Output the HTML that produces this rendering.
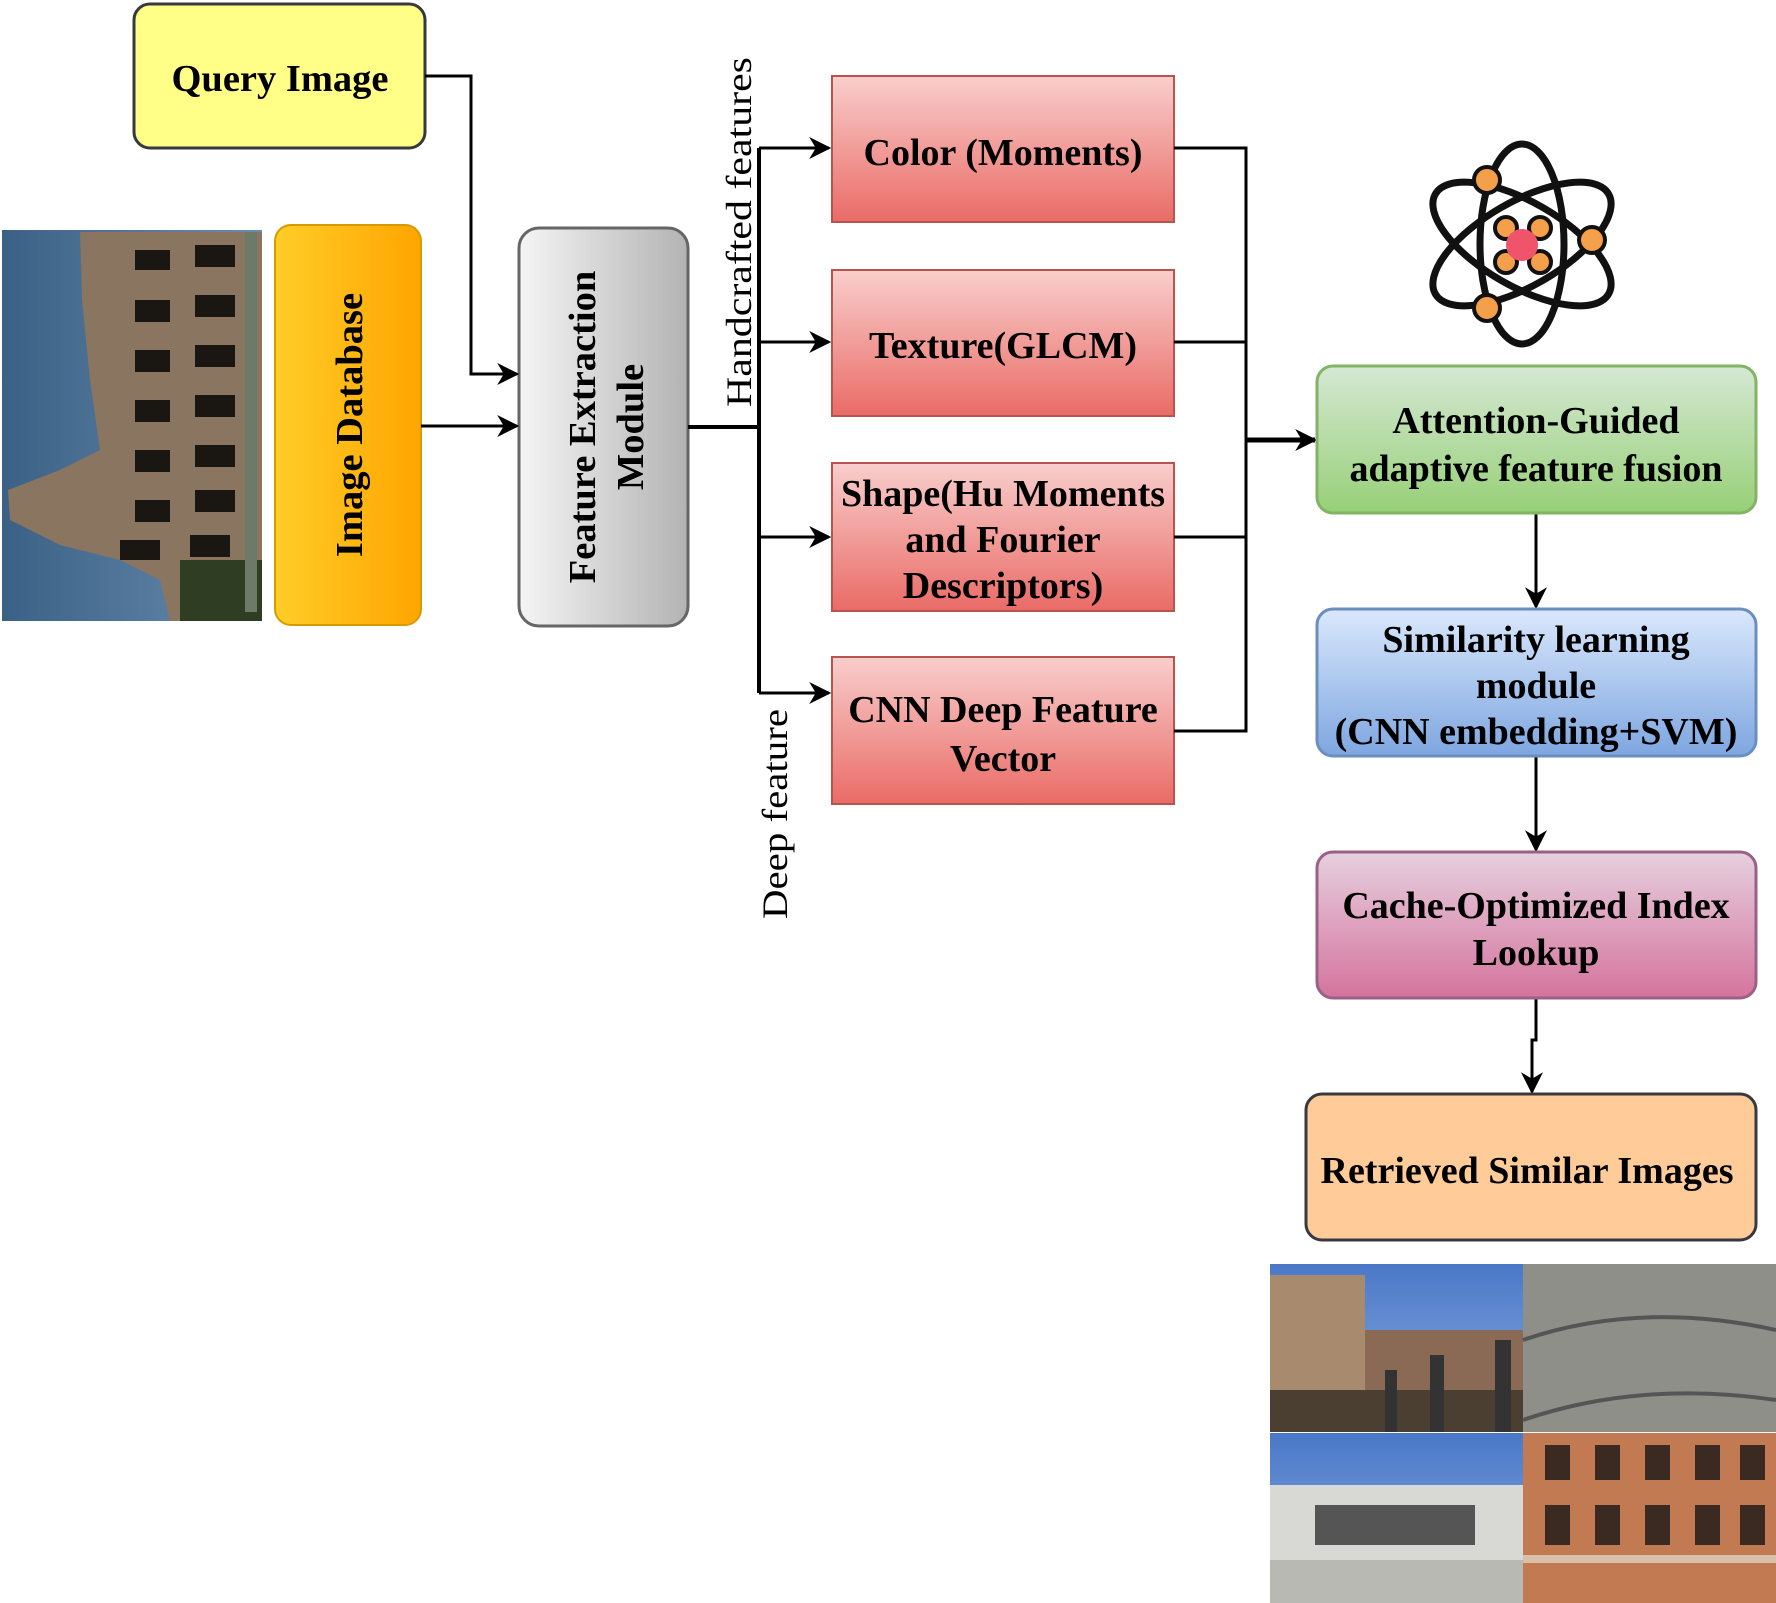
<!DOCTYPE html>
<html><head><meta charset="utf-8"><style>
html,body{margin:0;padding:0;background:#fff;}
svg{display:block;}
text{font-family:"Liberation Serif",serif;font-weight:bold;fill:#000;}
</style></head><body>
<svg width="1776" height="1603" viewBox="0 0 1776 1603" xmlns="http://www.w3.org/2000/svg">
<defs>
<linearGradient id="gOr" x1="0" y1="0" x2="1" y2="0"><stop offset="0" stop-color="#ffcd28"/><stop offset="1" stop-color="#ffa500"/></linearGradient>
<linearGradient id="gGr" x1="0" y1="0" x2="1" y2="0"><stop offset="0" stop-color="#f5f5f5"/><stop offset="1" stop-color="#b3b3b3"/></linearGradient>
<linearGradient id="gRed" x1="0" y1="0" x2="0" y2="1"><stop offset="0" stop-color="#f8cecc"/><stop offset="1" stop-color="#ea6b66"/></linearGradient>
<linearGradient id="gGreen" x1="0" y1="0" x2="0" y2="1"><stop offset="0" stop-color="#d5e8d4"/><stop offset="1" stop-color="#97d077"/></linearGradient>
<linearGradient id="gBlue" x1="0" y1="0" x2="0" y2="1"><stop offset="0" stop-color="#dae8fc"/><stop offset="1" stop-color="#7ea6e0"/></linearGradient>
<linearGradient id="gPink" x1="0" y1="0" x2="0" y2="1"><stop offset="0" stop-color="#e6d0de"/><stop offset="1" stop-color="#d5739d"/></linearGradient>
<linearGradient id="sky" x1="0" y1="0" x2="1" y2="0"><stop offset="0" stop-color="#3a6185"/><stop offset="1" stop-color="#6a8cae"/></linearGradient>
<linearGradient id="sky2" x1="0" y1="0" x2="0" y2="1"><stop offset="0" stop-color="#4a78c8"/><stop offset="1" stop-color="#8fb0e0"/></linearGradient>
<marker id="ar" viewBox="0 0 10 10" refX="9" refY="5" markerWidth="22" markerHeight="22" markerUnits="userSpaceOnUse" orient="auto"><path d="M0,0 L10,5 L0,10 L3,5 z" fill="#000"/></marker>
</defs>

<!-- Colosseum photo -->
<rect x="2" y="230" width="260" height="391" fill="url(#sky)"/>
<path d="M80,232 L262,232 L262,621 L170,621 L160,580 L120,560 L60,545 L10,520 L8,490 L60,470 L100,450 L90,380 L82,300 Z" fill="#8a7560"/>
<g fill="#1a1712">
<rect x="135" y="250" width="35" height="20"/><rect x="195" y="245" width="40" height="22"/>
<rect x="135" y="300" width="35" height="22"/><rect x="195" y="295" width="40" height="22"/>
<rect x="135" y="350" width="35" height="22"/><rect x="195" y="345" width="40" height="22"/>
<rect x="135" y="400" width="35" height="22"/><rect x="195" y="395" width="40" height="22"/>
<rect x="135" y="450" width="35" height="22"/><rect x="195" y="445" width="40" height="22"/>
<rect x="135" y="500" width="35" height="22"/><rect x="195" y="490" width="40" height="22"/>
<rect x="120" y="540" width="40" height="20"/><rect x="190" y="535" width="40" height="22"/>
</g>
<rect x="180" y="560" width="82" height="61" fill="#2f3d22"/>
<rect x="245" y="232" width="12" height="380" fill="#6e7a68"/>

<!-- Query Image -->
<rect x="134" y="4" width="291" height="144" rx="16" fill="#ffff88" stroke="#36393d" stroke-width="3"/>
<text x="280" y="91" font-size="38.5" text-anchor="middle">Query Image</text>

<!-- Image Database -->
<rect x="275" y="225" width="146" height="400" rx="16" fill="url(#gOr)" stroke="#d79b00" stroke-width="2"/>
<text transform="translate(362,425) rotate(-90)" font-size="38.5" text-anchor="middle">Image Database</text>

<!-- Feature Extraction -->
<rect x="519" y="228" width="169" height="398" rx="20" fill="url(#gGr)" stroke="#666" stroke-width="3"/>
<text transform="translate(595,427) rotate(-90)" font-size="38.5" text-anchor="middle">Feature Extraction</text>
<text transform="translate(643,427) rotate(-90)" font-size="38.5" text-anchor="middle">Module</text>

<!-- connectors left -->
<g stroke="#000" stroke-width="3" fill="none">
<path d="M425,76 L471,76 L471,374 L517,374" marker-end="url(#ar)"/>
<path d="M421,426 L517,426" marker-end="url(#ar)"/>
<path d="M688,427 L759,427" stroke-width="4"/>
<path d="M759,148 L759,693" stroke-width="4"/>
<path d="M759,148 L829,148" marker-end="url(#ar)"/>
<path d="M759,342 L829,342" marker-end="url(#ar)"/>
<path d="M759,537 L829,537" marker-end="url(#ar)"/>
<path d="M759,693 L829,693" marker-end="url(#ar)"/>
</g>
<text transform="translate(751,232) rotate(-90)" font-size="36" text-anchor="middle" textLength="350" lengthAdjust="spacingAndGlyphs" style="font-weight:normal">Handcrafted features</text>
<text transform="translate(787,814) rotate(-90)" font-size="36" text-anchor="middle" textLength="210" lengthAdjust="spacingAndGlyphs" style="font-weight:normal">Deep feature</text>

<!-- red boxes -->
<g fill="url(#gRed)" stroke="#b85450" stroke-width="2">
<rect x="832" y="76" width="342" height="146"/>
<rect x="832" y="270" width="342" height="146"/>
<rect x="832" y="463" width="342" height="148"/>
<rect x="832" y="657" width="342" height="147"/>
</g>
<g font-size="38" text-anchor="middle">
<text x="1003" y="165">Color (Moments)</text>
<text x="1003" y="358">Texture(GLCM)</text>
<text x="1003" y="506">Shape(Hu Moments</text>
<text x="1003" y="552">and Fourier</text>
<text x="1003" y="598">Descriptors)</text>
<text x="1003" y="722">CNN Deep Feature</text>
<text x="1003" y="771">Vector</text>
</g>

<!-- right bus -->
<g stroke="#000" stroke-width="3" fill="none">
<path d="M1174,148 L1246,148 L1246,731 L1174,731"/>
<path d="M1174,342 L1246,342"/>
<path d="M1174,537 L1246,537"/>
<path d="M1246,440 L1315,440" stroke-width="5" marker-end="url(#ar)"/>
<path d="M1536,513 L1536,607" marker-end="url(#ar)"/>
<path d="M1536,756 L1536,850" marker-end="url(#ar)"/>
<path d="M1536,998 L1536,1040 L1532,1040 L1532,1092" marker-end="url(#ar)"/>
</g>

<!-- atom -->
<g fill="none" stroke="#111" stroke-width="7">
<ellipse cx="1522" cy="244" rx="100" ry="42" transform="rotate(30 1522 244)"/>
<ellipse cx="1522" cy="244" rx="100" ry="42" transform="rotate(-30 1522 244)"/>
<ellipse cx="1522" cy="244" rx="42" ry="100"/>
</g>
<g fill="#f4a04a" stroke="#111" stroke-width="4">
<circle cx="1487" cy="180" r="13"/><circle cx="1592" cy="240" r="13"/><circle cx="1487" cy="308" r="13"/>
<circle cx="1506" cy="228" r="11"/><circle cx="1540" cy="228" r="11"/><circle cx="1506" cy="262" r="11"/><circle cx="1540" cy="262" r="11"/>
</g>
<circle cx="1522" cy="245" r="16" fill="#f0546a"/>

<!-- right boxes -->
<rect x="1317" y="366" width="439" height="147" rx="16" fill="url(#gGreen)" stroke="#82b366" stroke-width="3"/>
<text x="1536" y="433" font-size="38" text-anchor="middle">Attention-Guided</text>
<text x="1536" y="481" font-size="38" text-anchor="middle">adaptive feature fusion</text>

<rect x="1317" y="609" width="439" height="147" rx="16" fill="url(#gBlue)" stroke="#6c8ebf" stroke-width="3"/>
<text x="1536" y="652" font-size="38" text-anchor="middle">Similarity learning</text>
<text x="1536" y="698" font-size="38" text-anchor="middle">module</text>
<text x="1536" y="744" font-size="38" text-anchor="middle">(CNN embedding+SVM)</text>

<rect x="1317" y="852" width="439" height="146" rx="16" fill="url(#gPink)" stroke="#996185" stroke-width="3"/>
<text x="1536" y="918" font-size="38" text-anchor="middle">Cache-Optimized Index</text>
<text x="1536" y="965" font-size="38" text-anchor="middle">Lookup</text>

<rect x="1306" y="1094" width="450" height="146" rx="16" fill="#ffcc99" stroke="#36393d" stroke-width="3"/>
<text x="1527" y="1183" font-size="38" text-anchor="middle">Retrieved Similar Images</text>

<!-- retrieved photos -->
<rect x="1270" y="1264" width="253" height="168" fill="url(#sky2)"/>
<rect x="1270" y="1275" width="95" height="157" fill="#a88a6e"/>
<rect x="1365" y="1330" width="158" height="102" fill="#8a6a55"/>
<rect x="1270" y="1390" width="253" height="42" fill="#4a3f30"/>
<g fill="#333"><rect x="1385" y="1370" width="12" height="62"/><rect x="1430" y="1355" width="14" height="77"/><rect x="1495" y="1340" width="16" height="92"/></g>
<rect x="1523" y="1264" width="253" height="168" fill="#8d8f88"/>
<path d="M1523,1340 Q1640,1300 1776,1330" stroke="#555" stroke-width="4" fill="none"/>
<path d="M1523,1420 Q1640,1380 1776,1400" stroke="#555" stroke-width="4" fill="none"/>
<rect x="1270" y="1433" width="253" height="170" fill="url(#sky2)"/>
<rect x="1270" y="1485" width="253" height="118" fill="#d8d8d4"/>
<g fill="#555"><rect x="1315" y="1505" width="160" height="40"/></g>
<rect x="1270" y="1560" width="253" height="43" fill="#b9b9b4"/>
<rect x="1523" y="1433" width="253" height="170" fill="#c27a52"/>
<g fill="#3a2a22">
<rect x="1545" y="1445" width="25" height="35"/><rect x="1595" y="1445" width="25" height="35"/><rect x="1645" y="1445" width="25" height="35"/><rect x="1695" y="1445" width="25" height="35"/><rect x="1740" y="1445" width="25" height="35"/>
<rect x="1545" y="1505" width="25" height="40"/><rect x="1595" y="1505" width="25" height="40"/><rect x="1645" y="1505" width="25" height="40"/><rect x="1695" y="1505" width="25" height="40"/><rect x="1740" y="1505" width="25" height="40"/>
</g>
<rect x="1523" y="1555" width="253" height="8" fill="#d9c0a8"/>
</svg>
</body></html>
